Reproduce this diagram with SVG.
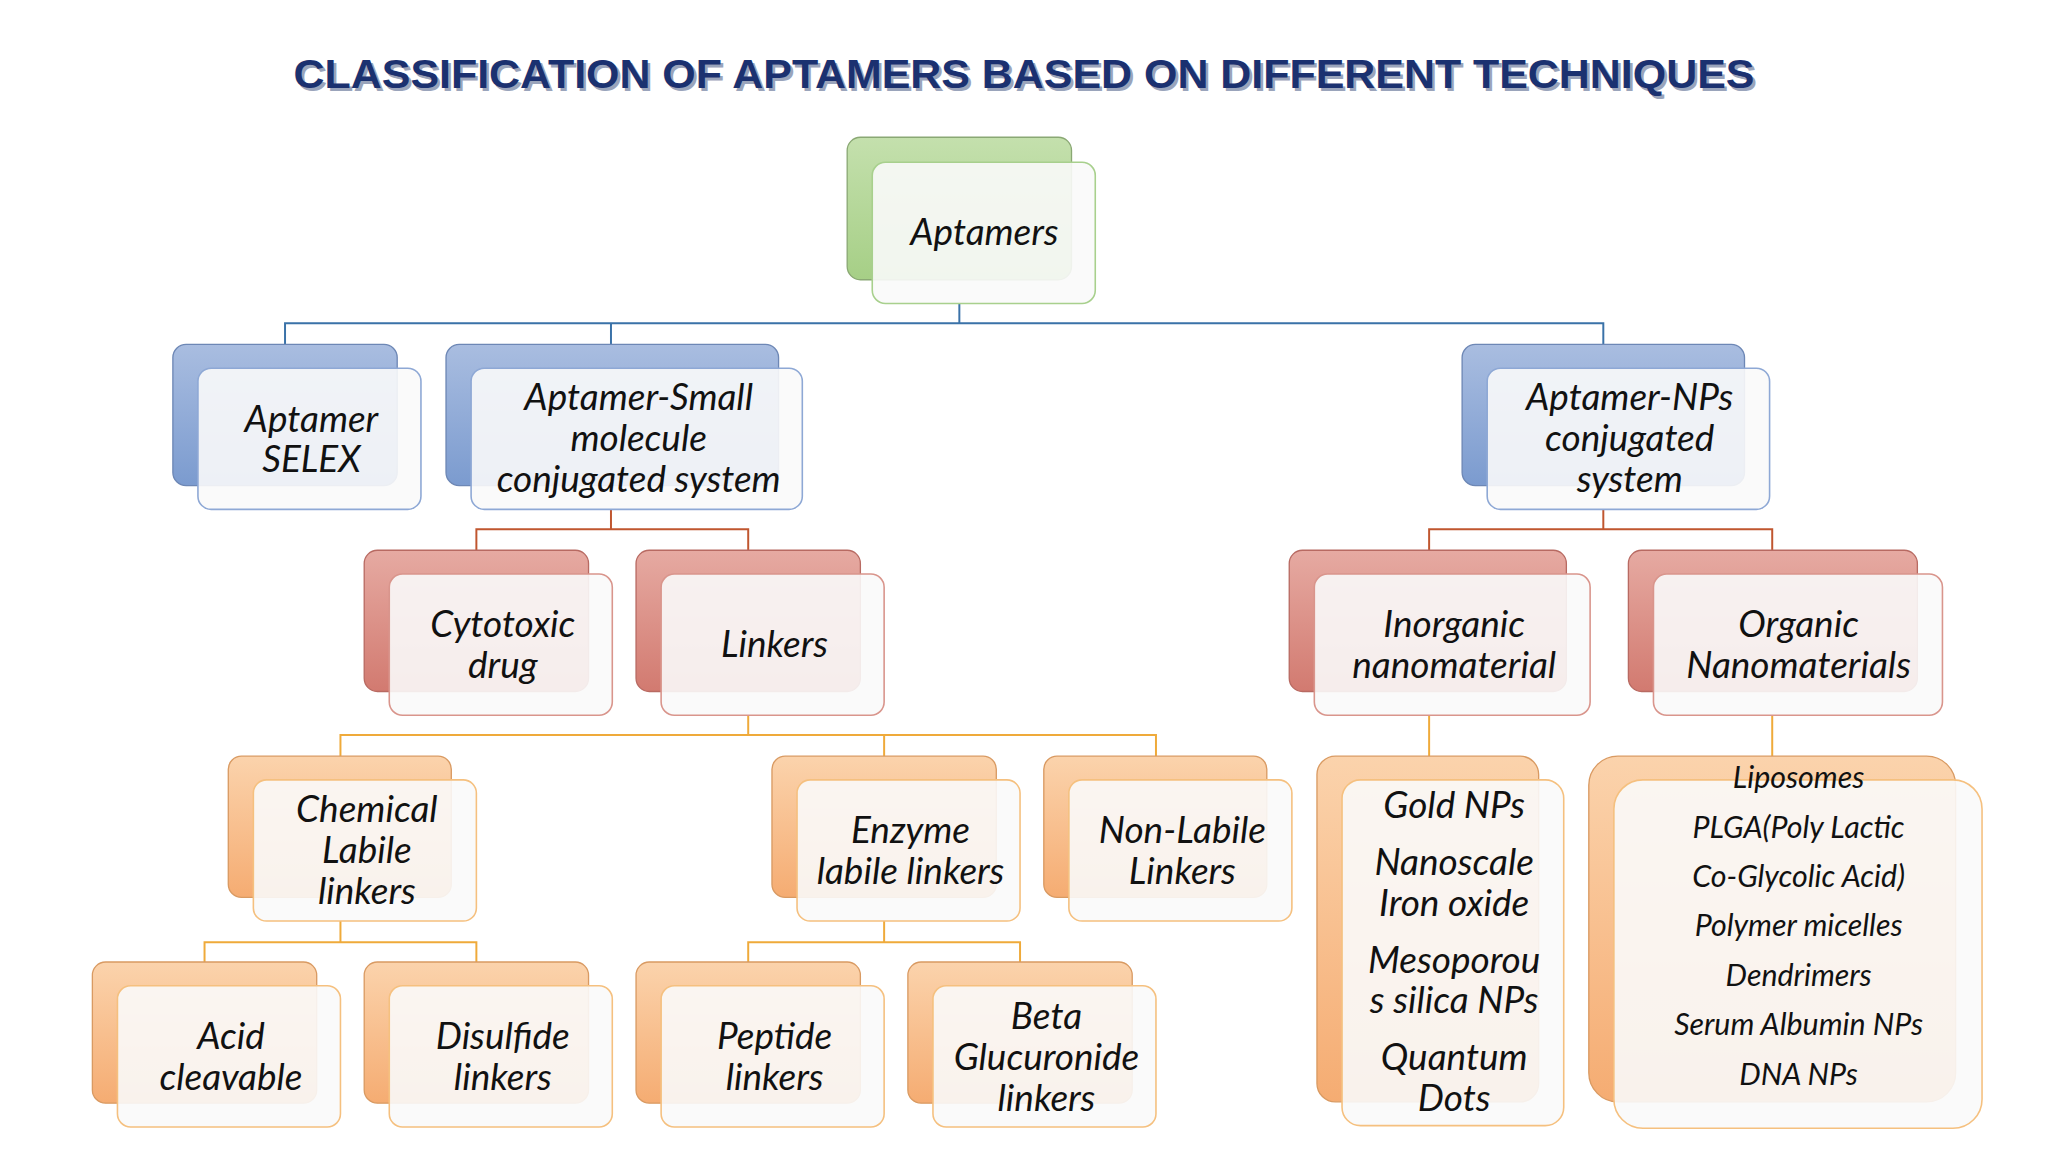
<svg xmlns="http://www.w3.org/2000/svg" width="2048" height="1152" viewBox="0 0 2048 1152">
<defs>
<linearGradient id="gG" x1="0" y1="0" x2="0" y2="1"><stop offset="0" stop-color="#c4e0ad"/><stop offset="1" stop-color="#a6cf86"/></linearGradient>
<linearGradient id="gB" x1="0" y1="0" x2="0" y2="1"><stop offset="0" stop-color="#a9bde0"/><stop offset="1" stop-color="#7b9bcf"/></linearGradient>
<linearGradient id="gR" x1="0" y1="0" x2="0" y2="1"><stop offset="0" stop-color="#e6aaa2"/><stop offset="1" stop-color="#d27a70"/></linearGradient>
<linearGradient id="gO" x1="0" y1="0" x2="0" y2="1"><stop offset="0" stop-color="#fbd3ac"/><stop offset="1" stop-color="#f5ac72"/></linearGradient>
</defs>
<style>
.bk{stroke-width:1}
.g{fill:url(#gG);stroke:#8aa874}.b{fill:url(#gB);stroke:#6d87b5}.r{fill:url(#gR);stroke:#b86a62}.o{fill:url(#gO);stroke:#d99a62}
.f{fill:#fafafa;fill-opacity:0.9;stroke-width:1.2}
.fg{stroke:#a8d08d}.fb{stroke:#8ea8d5}.fr{stroke:#d9958c}.fo{stroke:#f5c07f}
text{font-family:Lato,"Open Sans",sans-serif;font-style:italic;font-size:28px;fill:#111;text-anchor:middle}
.s{font-size:23px}
.cb{stroke:#3a72a8;fill:none;stroke-width:1.5}.cr{stroke:#c0562f;fill:none;stroke-width:1.5}.co{stroke:#efaa3a;fill:none;stroke-width:1.5}
</style>
<rect width="2048" height="1152" fill="#fff"/>
<g transform="scale(1.3196)">
<text x="776" y="67" style="font-family:'Liberation Sans',Arial,sans-serif;font-style:normal;font-weight:bold;font-size:31px;fill:#9aa4bb" textLength="1107" lengthAdjust="spacingAndGlyphs" transform="translate(2,2)">CLASSIFICATION OF APTAMERS BASED ON DIFFERENT TECHNIQUES</text>
<text id="title" x="776" y="67" style="font-family:'Liberation Sans',Arial,sans-serif;font-style:normal;font-weight:bold;font-size:31px;fill:#1b3170" textLength="1107" lengthAdjust="spacingAndGlyphs">CLASSIFICATION OF APTAMERS BASED ON DIFFERENT TECHNIQUES</text>
<g id="connectors">
<path class="cb" d="M727 230V245M216 261V245H1215V261M463 245V261"/>
<path class="cr" d="M463 386V401M361 417V401H567V417M1215 386V401M1083 417V401H1343V417"/>
<path class="co" d="M567 542V557M258 573V557H876V573M670 557V573M1083 542V573M1343 542V573M258 698V714M155 729V714H361V729M670 698V714M567 729V714H773V729"/>
</g>
<g id="n-aptamers"><rect class="g" x="642" y="104" width="170" height="108" rx="10"/><rect class="f fg" x="661" y="123" width="169" height="107" rx="10"/><text x="746" y="186">Aptamers</text></g>
<g id="n-selex"><rect class="b" x="131" y="261" width="170" height="107" rx="10"/><rect class="f fb" x="150" y="279" width="169" height="107" rx="10"/><text x="236" y="327">Aptamer</text><text x="236" y="358">SELEX</text></g>
<g id="n-small"><rect class="b" x="338" y="261" width="252" height="107" rx="10"/><rect class="f fb" x="357" y="279" width="251" height="107" rx="10"/><text x="484" y="311">Aptamer-Small</text><text x="484" y="342">molecule</text><text x="484" y="373">conjugated system</text></g>
<g id="n-nps"><rect class="b" x="1108" y="261" width="214" height="107" rx="10"/><rect class="f fb" x="1127" y="279" width="214" height="107" rx="10"/><text x="1235" y="311">Aptamer-NPs</text><text x="1235" y="342">conjugated</text><text x="1235" y="373">system</text></g>
<g id="n-cyto"><rect class="r" x="276" y="417" width="170" height="107" rx="10"/><rect class="f fr" x="295" y="435" width="169" height="107" rx="10"/><text x="381" y="483">Cytotoxic</text><text x="381" y="514">drug</text></g>
<g id="n-linkers"><rect class="r" x="482" y="417" width="170" height="107" rx="10"/><rect class="f fr" x="501" y="435" width="169" height="107" rx="10"/><text x="587" y="498">Linkers</text></g>
<g id="n-inorg"><rect class="r" x="977" y="417" width="210" height="107" rx="10"/><rect class="f fr" x="996" y="435" width="209" height="107" rx="10"/><text x="1102" y="483">Inorganic</text><text x="1102" y="514">nanomaterial</text></g>
<g id="n-org"><rect class="r" x="1234" y="417" width="219" height="107" rx="10"/><rect class="f fr" x="1253" y="435" width="219" height="107" rx="10"/><text x="1363" y="483">Organic</text><text x="1363" y="514">Nanomaterials</text></g>
<g id="n-chem"><rect class="o" x="173" y="573" width="169" height="107" rx="10"/><rect class="f fo" x="192" y="591" width="169" height="107" rx="10"/><text x="278" y="623">Chemical</text><text x="278" y="654">Labile</text><text x="278" y="685">linkers</text></g>
<g id="n-enz"><rect class="o" x="585" y="573" width="170" height="107" rx="10"/><rect class="f fo" x="604" y="591" width="169" height="107" rx="10"/><text x="690" y="639">Enzyme</text><text x="690" y="670">labile linkers</text></g>
<g id="n-nonlab"><rect class="o" x="791" y="573" width="169" height="107" rx="10"/><rect class="f fo" x="810" y="591" width="169" height="107" rx="10"/><text x="896" y="639">Non-Labile</text><text x="896" y="670">Linkers</text></g>
<g id="n-gold"><rect class="o" x="998" y="573" width="168" height="262" rx="14"/><rect class="f fo" x="1017" y="591" width="168" height="262" rx="14"/><text x="1102" y="620">Gold NPs</text><text x="1102" y="663">Nanoscale</text><text x="1102" y="694">Iron oxide</text><text x="1102" y="737">Mesoporou</text><text x="1102" y="768">s silica NPs</text><text x="1102" y="811">Quantum</text><text x="1102" y="842">Dots</text></g>
<g id="n-lipo"><rect class="o" x="1204" y="573" width="278" height="262" rx="22"/><rect class="f fo" x="1223" y="591" width="279" height="264" rx="22"/><text class="s" x="1363" y="597">Liposomes</text><text class="s" x="1363" y="635">PLGA(Poly Lactic</text><text class="s" x="1363" y="672">Co-Glycolic Acid)</text><text class="s" x="1363" y="709">Polymer micelles</text><text class="s" x="1363" y="747">Dendrimers</text><text class="s" x="1363" y="784">Serum Albumin NPs</text><text class="s" x="1363" y="822">DNA NPs</text></g>
<g id="n-acid"><rect class="o" x="70" y="729" width="170" height="107" rx="10"/><rect class="f fo" x="89" y="747" width="169" height="107" rx="10"/><text x="175" y="795">Acid</text><text x="175" y="826">cleavable</text></g>
<g id="n-disulf"><rect class="o" x="276" y="729" width="170" height="107" rx="10"/><rect class="f fo" x="295" y="747" width="169" height="107" rx="10"/><text x="381" y="795">Disulfide</text><text x="381" y="826">linkers</text></g>
<g id="n-pept"><rect class="o" x="482" y="729" width="170" height="107" rx="10"/><rect class="f fo" x="501" y="747" width="169" height="107" rx="10"/><text x="587" y="795">Peptide</text><text x="587" y="826">linkers</text></g>
<g id="n-beta"><rect class="o" x="688" y="729" width="170" height="107" rx="10"/><rect class="f fo" x="707" y="747" width="169" height="107" rx="10"/><text x="793" y="780">Beta</text><text x="793" y="811">Glucuronide</text><text x="793" y="842">linkers</text></g>
</g>
</svg>
